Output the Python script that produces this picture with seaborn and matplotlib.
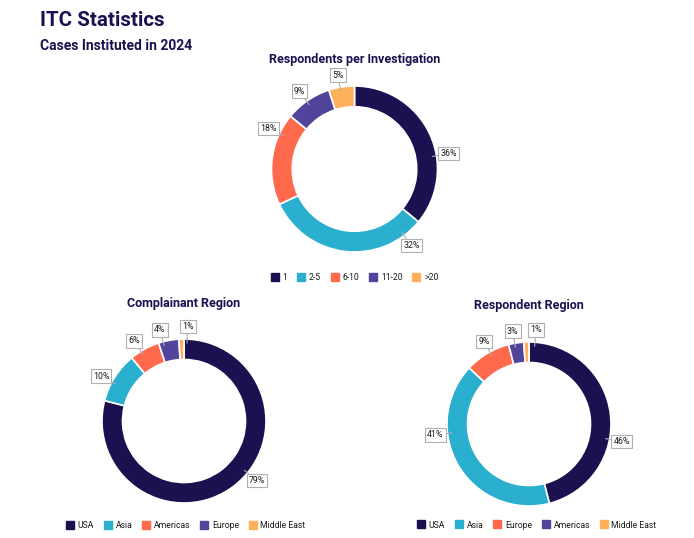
import numpy as np
import matplotlib
matplotlib.use("Agg")
import matplotlib.pyplot as plt
import seaborn as sns

# ---------------- data ----------------
resp_cats = ["1", "2-5", "6-10", "11-20", ">20"]
resp_vals = [36, 32, 18, 9, 5]

compl_cats = ["USA", "Asia", "Americas", "Europe", "Middle East"]
compl_vals = [79, 10, 6, 4, 1]

rreg_cats = ["USA", "Asia", "Europe", "Americas", "Middle East"]
rreg_vals = [46, 41, 9, 3, 1]

# ---------------- style ----------------
sns.set_theme(style="white")
plt.rcParams["font.family"] = ["Roboto", "DejaVu Sans"]
NAVY = "#1b1150"
palette = sns.color_palette(["#1b1150", "#2bafcf", "#ff6a4d", "#51449b", "#ffb05b"])

W, H = 694, 538
fig = plt.figure(figsize=(W / 100, H / 100), dpi=100)
fig.patch.set_facecolor("white")

fig.text(40 / W, 1 - 11 / H, "ITC Statistics", fontsize=14.8, fontweight="bold",
         color=NAVY, va="top", ha="left")
fig.text(40 / W, 1 - 39 / H, "Cases Instituted in 2024", fontsize=10, fontweight="bold",
         color=NAVY, va="top", ha="left")

L = 1.5


def donut(cx, cy, R, cats, vals, title, title_y, label_offsets, legend_cx, legend_y):
    side = 2 * L * R
    ax = fig.add_axes([(cx - L * R) / W, 1 - (cy + L * R) / H, side / W, side / H])
    ax.pie(vals, colors=palette[:len(vals)], startangle=90, counterclock=False,
           radius=1.0, wedgeprops=dict(width=0.25, edgecolor="white", linewidth=1.2))
    ax.set_xlim(-L, L)
    ax.set_ylim(-L, L)
    ax.set_aspect("equal")
    ax.axis("off")
    total = sum(vals)
    cum = 0
    for v, off in zip(vals, label_offsets):
        mid = 90 - 360 * (cum + v / 2) / total
        cum += v
        ang = np.deg2rad(mid + off)
        tip = (0.95 * np.cos(ang), 0.95 * np.sin(ang))
        box = (1.15 * np.cos(ang), 1.15 * np.sin(ang))
        ax.annotate(f"{v}%", xy=tip, xytext=box, ha="center", va="center",
                    fontsize=6.3, color="#1a1a1a",
                    bbox=dict(boxstyle="square,pad=0.25", fc="white", ec="#b0b0b0", lw=0.8),
                    arrowprops=dict(arrowstyle="-", color="#b0b0b0", lw=0.8,
                                    shrinkA=0, shrinkB=0))
    fig.text(cx / W, 1 - title_y / H, title, fontsize=9, fontweight="bold",
             color=NAVY, ha="center", va="center")
    handles = [plt.Line2D([0], [0], marker="s", linestyle="", markersize=5.5,
                          markerfacecolor=c, markeredgecolor=c) for c in palette[:len(cats)]]
    fig.legend(handles, cats, loc="center", bbox_to_anchor=(legend_cx / W, 1 - legend_y / H),
               ncol=len(cats), frameon=False, fontsize=6.2, handlelength=0.8,
               handletextpad=0.5, columnspacing=1.2, labelcolor="#1a1a1a")


donut(354.5, 169, 83, resp_cats, resp_vals, "Respondents per Investigation", 60,
      [-16, 44, -18, 1, 1], 355, 278)
donut(184, 421, 82, compl_cats, compl_vals, "Complainant Region", 303,
      [13, 4, 3, 4, -4], 186, 526)
donut(529, 424, 82, rreg_cats, rreg_vals, "Respondent Region", 306,
      [-18, -24, -2, 1, -6], 537, 525)

fig.savefig("out.png", dpi=100, facecolor="white")
